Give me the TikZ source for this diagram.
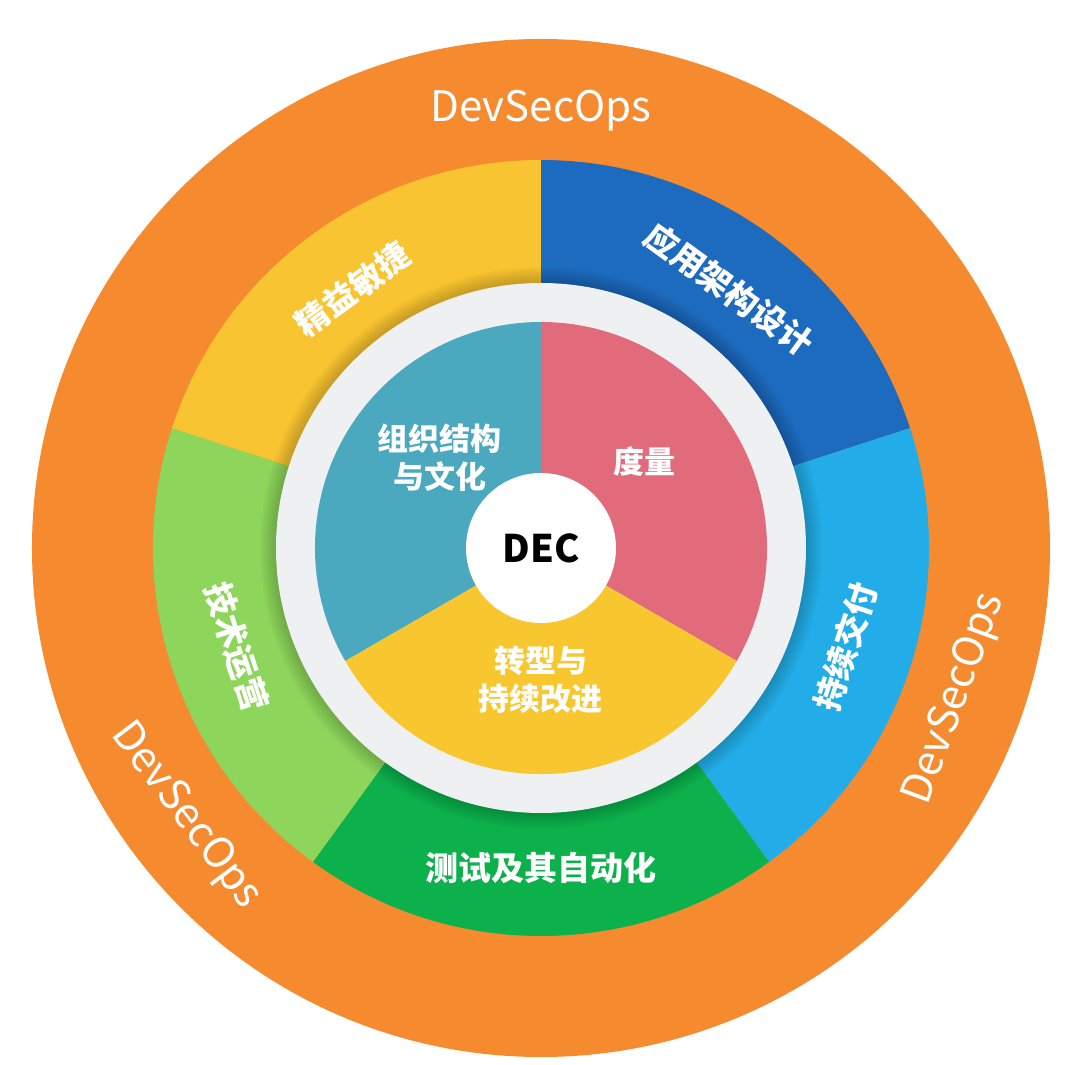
\documentclass[tikz,border=0pt]{standalone}
\usepackage{fontspec}
\newfontfamily\cjk{Noto Sans CJK SC}
\usepackage{tikz}
\usetikzlibrary{positioning}
\definecolor{ringOrange}{HTML}{F68A2E}
\definecolor{secYellow}{HTML}{F8C431}
\definecolor{secBlue}{HTML}{1D6BBE}
\definecolor{secSky}{HTML}{22ADE8}
\definecolor{secGreen}{HTML}{0DB14C}
\definecolor{secLime}{HTML}{8ED55B}
\definecolor{coreTeal}{HTML}{4AA8BF}
\definecolor{corePink}{HTML}{E16B7B}
\definecolor{coreYellow}{HTML}{F8C62F}
\definecolor{ringGray}{HTML}{EFF0F1}
\tikzset{
	secLabel/.style={text=white, font=\cjk\bfseries\fontsize{33}{33}\selectfont, inner sep=0pt},
	coreLabel/.style={text=white, font=\cjk\bfseries\fontsize{31}{38}\selectfont, align=center, inner sep=0pt},
	dsoLabel/.style={text=white, font=\cjk\fontsize{42}{42}\selectfont, inner sep=0pt}
}
\begin{document}
\begin{tikzpicture}[x=1pt, y=1pt]
			\useasboundingbox (-541,-517) rectangle (539,548);
			% outer ring
			\fill[ringOrange] (0,0) circle (509);
			% five outer sectors
			\foreach \colr[count=\iSec, evaluate=\iSec as \aStart using {90-72*\iSec}] in {secBlue, secSky, secGreen, secLime, secYellow}
			{
				\fill[\colr] (0,0) -- (\aStart:388) arc (\aStart:\aStart+72:388) -- cycle;
			}
			\foreach \labl/\ang/\rot[count=\iLab] in {应用架构设计/54/-36, 持续交付/-18/72, 测试及其自动化/-90/0, 技术运营/-162/-72, 精益敏捷/126/36}
			{
				\node[secLabel, rotate=\rot] (sec\iLab) at (\ang:320) {\labl};
			}
			% gray ring with soft shadow
			\foreach \k in {1,...,8}{
				\fill[black, opacity=0.025] (0,0) circle ({265+2*\k});
			}
			\fill[ringGray] (0,0) circle (265);
			% three core sectors
			\fill[coreTeal] (0,0) -- (90:226) arc (90:210:226) -- cycle;
			\fill[corePink] (0,0) -- (-30:226) arc (-30:90:226) -- cycle;
			\fill[coreYellow] (0,0) -- (210:226) arc (210:330:226) -- cycle;
			\node[coreLabel] (culture) at (-101,90) {组织结构\\与文化};
			\node[coreLabel] (measure) at (104,86) {度量};
			\node[coreLabel] (improve) at (0,-132) {转型与\\持续改进};
			\node[circle, fill=white, minimum size=150pt, inner sep=0pt, font=\cjk\bfseries\fontsize{38}{38}\selectfont] (dec) at (0,0) {DEC};
			% DevSecOps labels
			\node[dsoLabel] (dsoTop) at (90:437) {DevSecOps};
			\node[dsoLabel, rotate=70] (dsoRight) at (-20:441) {DevSecOps};
			\node[dsoLabel, rotate=-53] (dsoLeft) at (-143:445) {DevSecOps};
		\end{tikzpicture}
\end{document}
